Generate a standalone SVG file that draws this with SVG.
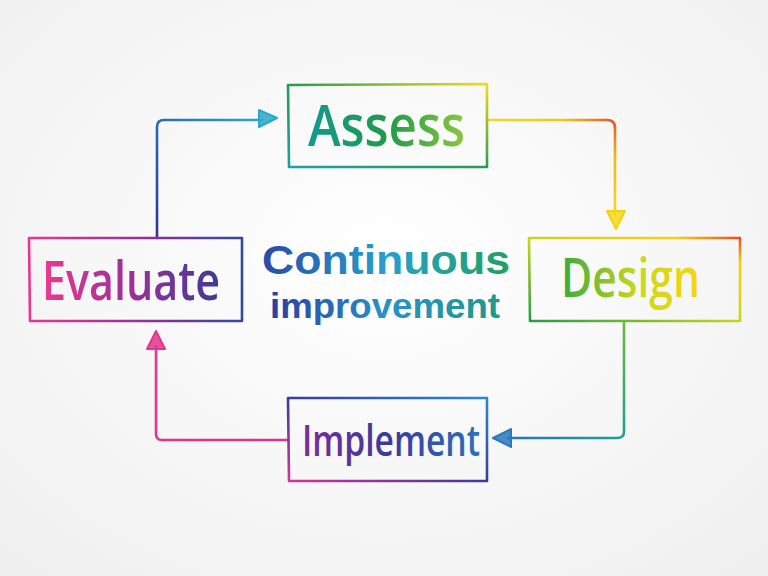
<svg xmlns="http://www.w3.org/2000/svg" width="768" height="576" viewBox="0 0 768 576">
<defs>
<radialGradient id="bg" cx="0.5" cy="0.45" r="0.75">
<stop offset="0" stop-color="#ffffff"/><stop offset="1" stop-color="#efefef"/>
</radialGradient>
<linearGradient id="gAssessT" x1="0" y1="0" x2="1" y2="0"><stop offset="0" stop-color="#139a8f"/><stop offset="0.5" stop-color="#1f9a48"/><stop offset="1" stop-color="#8cc63f"/></linearGradient>
<linearGradient id="gAssessB" x1="0" y1="1" x2="1" y2="0"><stop offset="0" stop-color="#1aa3a0"/><stop offset="0.5" stop-color="#2a9a50"/><stop offset="1" stop-color="#f2dc1c"/></linearGradient>
<linearGradient id="gDesignT" x1="0" y1="0" x2="1" y2="0"><stop offset="0" stop-color="#3da83a"/><stop offset="0.55" stop-color="#c8d81e"/><stop offset="1" stop-color="#f7d515"/></linearGradient>
<linearGradient id="gDesignB" x1="0" y1="1" x2="1" y2="0"><stop offset="0" stop-color="#2a9a48"/><stop offset="0.5" stop-color="#c9d61e"/><stop offset="0.85" stop-color="#f6d015"/><stop offset="1" stop-color="#e8501e"/></linearGradient>
<linearGradient id="gEvalT" x1="0" y1="0" x2="1" y2="0"><stop offset="0" stop-color="#ec3a8e"/><stop offset="0.5" stop-color="#9a3098"/><stop offset="1" stop-color="#3e3a98"/></linearGradient>
<linearGradient id="gEvalB" x1="0" y1="0" x2="1" y2="0"><stop offset="0" stop-color="#e8388e"/><stop offset="0.6" stop-color="#8a3098"/><stop offset="1" stop-color="#2f4aa0"/></linearGradient>
<linearGradient id="gImpT" x1="0" y1="0" x2="1" y2="0"><stop offset="0" stop-color="#7b2c98"/><stop offset="0.5" stop-color="#3a3a9e"/><stop offset="1" stop-color="#2a72bc"/></linearGradient>
<linearGradient id="gImpB" x1="0" y1="1" x2="1" y2="0"><stop offset="0" stop-color="#d83290"/><stop offset="0.5" stop-color="#3a3aa0"/><stop offset="1" stop-color="#2a8ac8"/></linearGradient>
<linearGradient id="gCont" x1="0" y1="0" x2="1" y2="0"><stop offset="0" stop-color="#2a4aa8"/><stop offset="0.5" stop-color="#27a0cc"/><stop offset="1" stop-color="#22a060"/></linearGradient>
<linearGradient id="gImpr" x1="0" y1="0" x2="1" y2="0"><stop offset="0" stop-color="#2a3ea0"/><stop offset="0.5" stop-color="#2a90c8"/><stop offset="1" stop-color="#1f9a88"/></linearGradient>
<linearGradient id="gC1" x1="0" y1="1" x2="1" y2="0"><stop offset="0" stop-color="#2a3598"/><stop offset="0.5" stop-color="#2a6ab8"/><stop offset="1" stop-color="#2aaac8"/></linearGradient>
<linearGradient id="gC2h" x1="0" y1="0" x2="1" y2="0"><stop offset="0" stop-color="#eedc20"/><stop offset="0.6" stop-color="#f2c818"/><stop offset="1" stop-color="#e8541e"/></linearGradient>
<linearGradient id="gC2v" gradientUnits="userSpaceOnUse" x1="615" y1="120" x2="615" y2="214"><stop offset="0" stop-color="#e8541e"/><stop offset="0.4" stop-color="#f2b81a"/><stop offset="1" stop-color="#f6d818"/></linearGradient>
<linearGradient id="gC3" x1="1" y1="0" x2="0" y2="1"><stop offset="0" stop-color="#6cbc3a"/><stop offset="0.5" stop-color="#1fa090"/><stop offset="1" stop-color="#2a72bc"/></linearGradient>
<linearGradient id="gC4" x1="1" y1="1" x2="0" y2="0"><stop offset="0" stop-color="#d8348e"/><stop offset="1" stop-color="#e8388a"/></linearGradient>
</defs>
<style>
.box{fill:none;stroke-width:2.6;stroke-linejoin:round}
.lbl{font-family:"Open Sans","Noto Sans","Liberation Sans",sans-serif;font-weight:600;text-anchor:start}
.mid{font-family:"Liberation Sans","DejaVu Sans",sans-serif;font-weight:700;text-anchor:start}
.con{fill:none;stroke-width:2.6;stroke-linecap:round;stroke-linejoin:round}
.arr{stroke-width:2;stroke-linejoin:round;fill-opacity:0.85}
</style>
<rect x="0" y="0" width="768" height="576" fill="url(#bg)"/>

<g id="connectors">
<path class="con" d="M157,238 V127 Q157,120 164,120 H262" stroke="url(#gC1)"/>
<polygon class="arr" points="259,110 277,118 259,127" fill="#2aa8c8" stroke="#2aa8c8"/>
<path class="con" d="M487,120 H607 Q615,120 615,128" stroke="url(#gC2h)"/>
<path class="con" d="M615,127 V214" stroke="url(#gC2v)"/>
<polygon class="arr" points="607,211 616,229 625,211" fill="#f6d818" stroke="#f4d018"/>
<path class="con" d="M624,321 V432 Q624,438 617,438 H508" stroke="url(#gC3)"/>
<polygon class="arr" points="511,429 493,438 511,447" fill="#2a78c0" stroke="#2a78c0"/>
<path class="con" d="M288,440 H162 Q156,440 156,434 V346" stroke="url(#gC4)"/>
<polygon class="arr" points="147,349 156,331 165,349" fill="#e4348c" stroke="#e4348c"/>
</g>

<g id="assess">
<path class="box" d="M288,85 L487,84 L487,167 L289,167 Z" stroke="url(#gAssessB)"/>
<text class="lbl" x="308" y="146" font-size="58" textLength="157" lengthAdjust="spacingAndGlyphs" fill="url(#gAssessT)">Assess</text>
</g>

<g id="design">
<path class="box" d="M529,238 L740,238 L740,321 L530,321 Z" stroke="url(#gDesignB)"/>
<text class="lbl" x="561" y="297" font-size="54" textLength="139" lengthAdjust="spacingAndGlyphs" fill="url(#gDesignT)">Design</text>
</g>

<g id="evaluate">
<path class="box" d="M29,238 L242,238 L242,321 L30,321 Z" stroke="url(#gEvalB)"/>
<text class="lbl" x="42" y="300" font-size="54" textLength="178" lengthAdjust="spacingAndGlyphs" fill="url(#gEvalT)">Evaluate</text>
</g>

<g id="implement">
<path class="box" d="M288,398 L487,398 L487,481 L289,481 Z" stroke="url(#gImpB)"/>
<text class="lbl" x="302" y="456" font-size="44" textLength="178" lengthAdjust="spacingAndGlyphs" fill="url(#gImpT)">Implement</text>
</g>

<g id="center">
<text class="mid" x="262" y="274" font-size="41" textLength="248" lengthAdjust="spacingAndGlyphs" fill="url(#gCont)">Continuous</text>
<text class="mid" x="270" y="318" font-size="35" textLength="230" lengthAdjust="spacingAndGlyphs" fill="url(#gImpr)">improvement</text>
</g>
</svg>
